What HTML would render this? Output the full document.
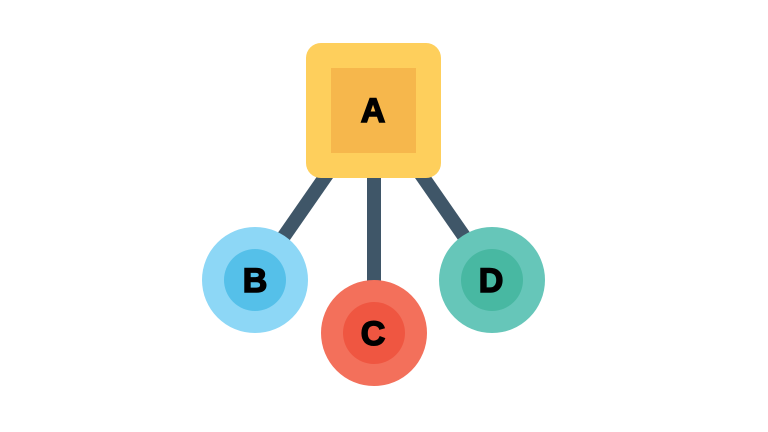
<!DOCTYPE html>
<html><head><style>
html,body{margin:0;padding:0;background:#fff;width:768px;height:432px;overflow:hidden}
</style></head><body>
<svg width="768" height="432" viewBox="0 0 768 432" xmlns="http://www.w3.org/2000/svg">
<g stroke="#3f5668" stroke-width="14">
<line x1="330" y1="170" x2="280" y2="242"/>
<line x1="374" y1="170" x2="374" y2="284"/>
<line x1="418" y1="170" x2="468" y2="242"/>
</g>
<rect x="306" y="43" width="135" height="135" rx="15" fill="#fecf5c"/>
<rect x="331" y="68" width="85" height="85" fill="#f6b74c"/>
<circle cx="255" cy="280" r="53" fill="#8dd7f6"/>
<circle cx="255" cy="280" r="31" fill="#55c0e9"/>
<circle cx="374" cy="333" r="53" fill="#f3705b"/>
<circle cx="374" cy="333" r="31" fill="#ef5641"/>
<circle cx="492" cy="280" r="53" fill="#66c6b9"/>
<circle cx="492" cy="280" r="31" fill="#48b8a2"/>
<g font-family="Liberation Sans, sans-serif" font-weight="bold" font-size="34" text-anchor="middle" fill="#000" stroke="#000" stroke-width="1.5">
<text x="373" y="122">A</text>
<text x="255" y="292">B</text>
<text x="373" y="345">C</text>
<text x="491" y="292">D</text>
</g>
</svg>
</body></html>
